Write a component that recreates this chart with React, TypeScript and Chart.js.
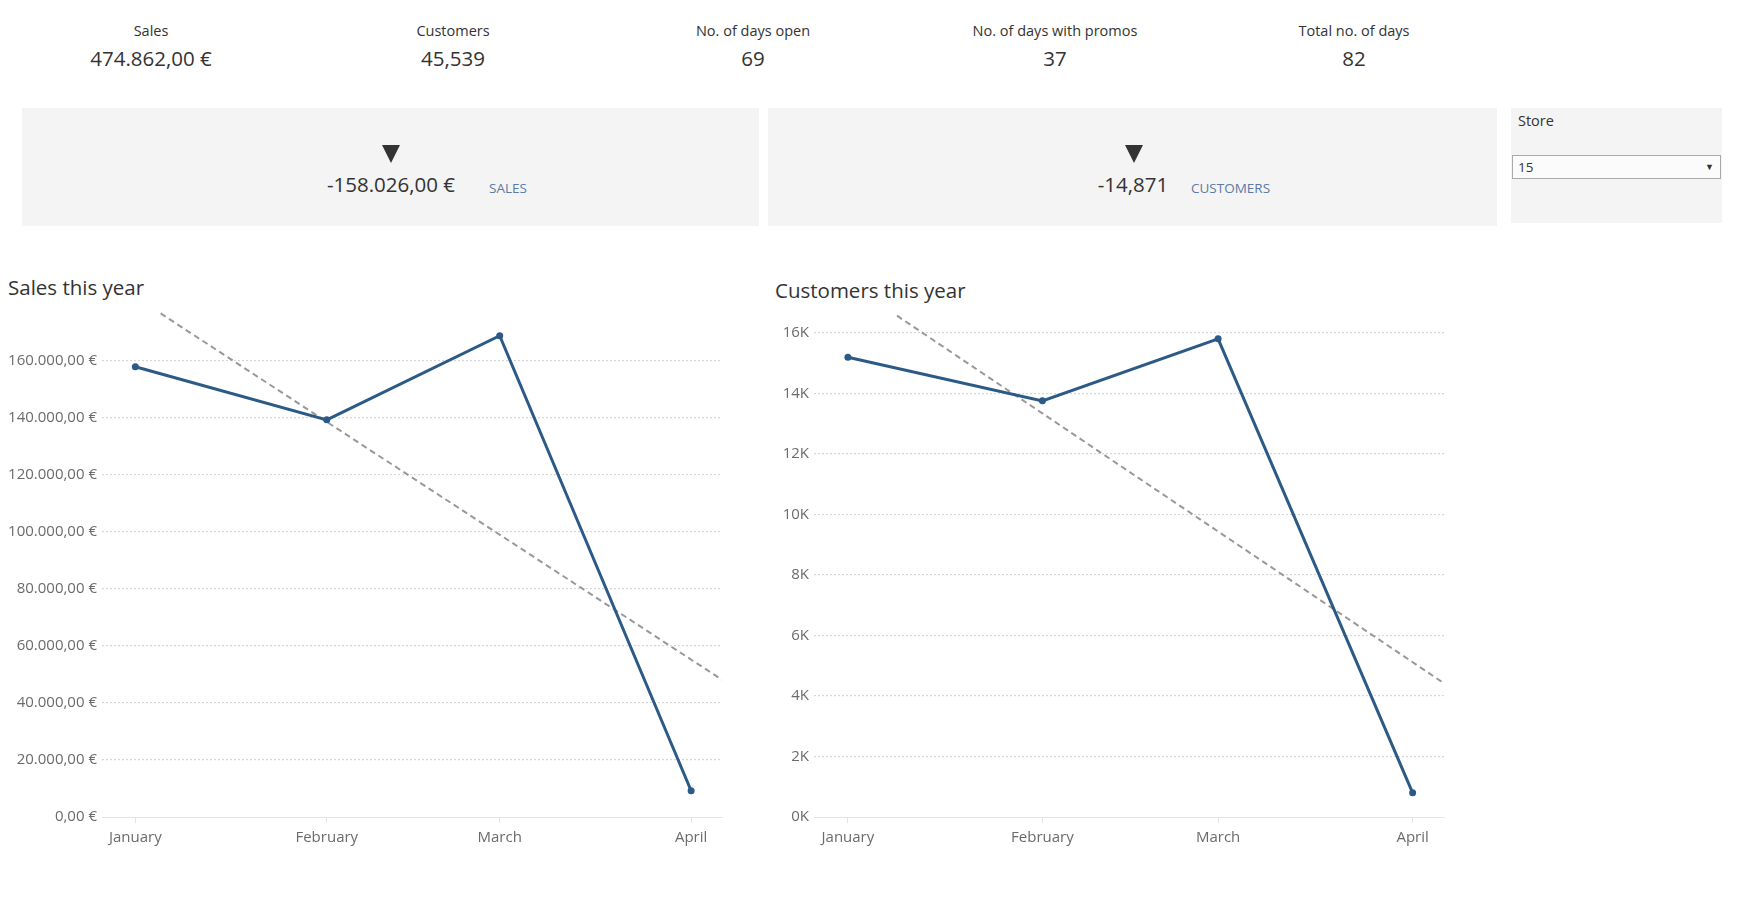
import React, { useEffect, useRef } from "react";
import { Chart, registerables } from "chart.js";

Chart.register(...registerables);

// chart data
const months = ["January", "February", "March", "April"];
const monthDays = [0, 31, 59, 90]; // day offset of the first of each month
const salesThisYear = [157800, 139200, 168700, 9200];
const customersThisYear = [15190, 13750, 15800, 800];
const salesTicks = [0, 20000, 40000, 60000, 80000, 100000, 120000, 140000, 160000];
const customerTicks = [0, 2000, 4000, 6000, 8000, 10000, 12000, 14000, 16000];

const kpiLabels = ["Sales", "Customers", "No. of days open", "No. of days with promos", "Total no. of days"];
const kpiValues = ["474.862,00 €", "45,539", "69", "37", "82"];

const FONT = "'Open Sans', sans-serif";
const LINE_COLOR = "#2c5a87";

const formatEuro = (v: number) => {
  const s = Math.round(v).toString().replace(/\B(?=(\d{3})+(?!\d))/g, ".");
  return s + ",00 €";
};

// least-squares trend line, evaluated at the axis ends
const trendLine = (xs: number[], ys: number[], x0: number, x1: number) => {
  const n = xs.length;
  const mx = xs.reduce((a, b) => a + b, 0) / n;
  const my = ys.reduce((a, b) => a + b, 0) / n;
  let sxy = 0;
  let sxx = 0;
  xs.forEach((x, i) => {
    sxy += (x - mx) * (ys[i] - my);
    sxx += (x - mx) * (x - mx);
  });
  const slope = sxy / sxx;
  return [
    { x: x0, y: my + slope * (x0 - mx) },
    { x: x1, y: my + slope * (x1 - mx) },
  ];
};

interface LineChartProps {
  values: number[];
  ticks: number[];
  yMax: number;
  yWidth: number;
  padTop: number;
  padRight: number;
  format: (v: number) => string;
}

const X_MIN = -5.4;
const X_MAX = 95;

const LineChart: React.FC<LineChartProps> = ({ values, ticks, yMax, yWidth, padTop, padRight, format }) => {
  const canvasRef = useRef<HTMLCanvasElement | null>(null);

  useEffect(() => {
    if (!canvasRef.current) return;
    const chart = new Chart(canvasRef.current, {
      type: "line",
      data: {
        datasets: [
          {
            label: "This year",
            data: monthDays.map((d, i) => ({ x: d, y: values[i] })),
            borderColor: LINE_COLOR,
            backgroundColor: LINE_COLOR,
            borderWidth: 3,
            pointRadius: 3.5,
            pointBackgroundColor: LINE_COLOR,
            pointBorderWidth: 0,
            tension: 0,
          },
          {
            label: "Trend",
            data: trendLine(monthDays, values, X_MIN, X_MAX),
            borderColor: "#999999",
            borderWidth: 2,
            borderDash: [6, 4],
            pointRadius: 0,
            tension: 0,
          },
        ],
      },
      options: {
        animation: false,
        responsive: true,
        maintainAspectRatio: false,
        layout: { padding: { top: padTop, right: padRight, left: 0, bottom: 0 } },
        plugins: { legend: { display: false }, tooltip: { enabled: false } },
        scales: {
          x: {
            type: "linear",
            min: X_MIN,
            max: X_MAX,
            afterBuildTicks: (axis: any) => {
              axis.ticks = monthDays.map((d) => ({ value: d }));
            },
            afterFit: (axis: any) => {
              axis.height = 43;
            },
            ticks: {
              callback: (v: any) => months[monthDays.indexOf(Number(v))] ?? "",
              color: "#6b6b6b",
              font: { family: FONT, size: 15 },
              padding: 6,
              maxRotation: 0,
              autoSkip: false,
            },
            grid: {
              drawOnChartArea: false,
              drawTicks: true,
              tickLength: 6,
              color: "#e4e4e4",
            },
            border: { display: true, color: "#e4e4e4" },
          },
          y: {
            type: "linear",
            min: 0,
            max: yMax,
            afterBuildTicks: (axis: any) => {
              axis.ticks = ticks.map((t) => ({ value: t }));
            },
            afterFit: (axis: any) => {
              axis.width = yWidth;
            },
            ticks: {
              callback: (v: any) => format(Number(v)),
              color: "#6b6b6b",
              font: { family: FONT, size: 15 },
              padding: 5,
            },
            grid: {
              drawTicks: false,
              color: (ctx: any) => (ctx.tick && ctx.tick.value === 0 ? "rgba(0,0,0,0)" : "#d6d6d6"),
              lineWidth: 1.2,
            },
            border: { display: false, dash: [2, 2] },
          },
        },
      },
    });

    return () => chart.destroy();
  }, [values, ticks, yMax, yWidth, padTop, padRight, format]);

  return <canvas ref={canvasRef} />;
};

const abs = (s: React.CSSProperties): React.CSSProperties => ({ position: "absolute", ...s });

const Triangle: React.FC<{ cx: number; top: number }> = ({ cx, top }) => (
  <div
    style={abs({
      left: cx - 9,
      top,
      width: 0,
      height: 0,
      borderLeft: "9px solid transparent",
      borderRight: "9px solid transparent",
      borderTop: "18px solid #333",
    })}
  />
);

const App: React.FC = () => {
  const kpiCenters = [151, 453, 753, 1055, 1354];
  return (
    <div style={abs({ left: 0, top: 0, width: 1741, height: 903, background: "#fff", fontFamily: FONT, color: "#333" })}>
      {kpiLabels.map((l, i) => (
        <div key={l} style={abs({ left: kpiCenters[i] - 120, width: 240, top: 22, fontSize: 14.5, lineHeight: "18px", textAlign: "center" })}>
          {l}
        </div>
      ))}
      {kpiValues.map((v, i) => (
        <div key={i} style={abs({ left: kpiCenters[i] - 120, width: 240, top: 45, fontSize: 20.5, lineHeight: "26px", textAlign: "center" })}>
          {v}
        </div>
      ))}

      <div style={abs({ left: 22, top: 108, width: 737, height: 118, background: "#f4f4f4" })} />
      <div style={abs({ left: 768, top: 108, width: 729, height: 118, background: "#f4f4f4" })} />
      <div style={abs({ left: 1511, top: 108, width: 211, height: 115, background: "#f4f4f4" })} />

      <Triangle cx={391} top={145} />
      <div style={abs({ left: 391 - 120, width: 240, top: 171, fontSize: 20.5, lineHeight: "26px", textAlign: "center" })}>-158.026,00 €</div>
      <div style={abs({ left: 489, top: 180, fontSize: 13.5, lineHeight: "16px", color: "#5b7aa5" })}>SALES</div>

      <Triangle cx={1134} top={145} />
      <div style={abs({ left: 1133 - 120, width: 240, top: 171, fontSize: 20.5, lineHeight: "26px", textAlign: "center" })}>-14,871</div>
      <div style={abs({ left: 1191, top: 180, fontSize: 13.5, lineHeight: "16px", color: "#5b7aa5" })}>CUSTOMERS</div>

      <div style={abs({ left: 1518, top: 112, fontSize: 14.5, lineHeight: "18px" })}>Store</div>
      <div
        style={abs({
          left: 1512,
          top: 155,
          width: 207,
          height: 22,
          border: "1px solid #a9a9a9",
          background: "#fbfbfb",
        })}
      >
        <span style={abs({ left: 5, top: 3, fontSize: 13.5, lineHeight: "16px" })}>15</span>
        <span style={abs({ right: 6, top: 4, fontSize: 9, lineHeight: "14px" })}>▼</span>
      </div>

      <div style={abs({ left: 8, top: 275, fontSize: 20.5, lineHeight: "24px", color: "#333" })}>Sales this year</div>
      <div style={abs({ left: 775, top: 278, fontSize: 20.5, lineHeight: "24px", color: "#333" })}>Customers this year</div>

      <div style={abs({ left: 0, top: 295, width: 740, height: 565 })}>
        <LineChart
          values={salesThisYear}
          ticks={salesTicks}
          yMax={177000}
          yWidth={102}
          padTop={17}
          padRight={18}
          format={formatEuro}
        />
      </div>
      <div style={abs({ left: 700, top: 295, width: 760, height: 565 })}>
        <LineChart
          values={customersThisYear}
          ticks={customerTicks}
          yMax={16620}
          yWidth={114}
          padTop={19}
          padRight={16}
          format={(v) => `${v / 1000}K`}
        />
      </div>
    </div>
  );
};

export default App;
